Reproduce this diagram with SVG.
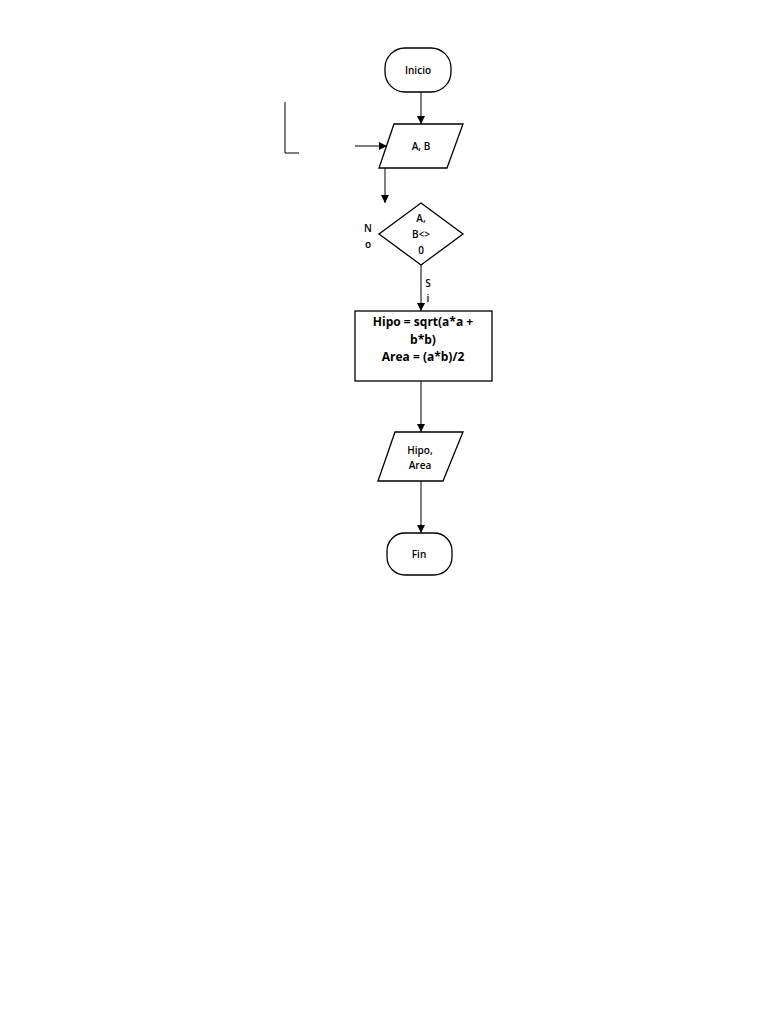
<svg xmlns="http://www.w3.org/2000/svg" width="768" height="1024" viewBox="0 0 768 1024">
<defs>
<marker id="arr" markerWidth="10" markerHeight="10" refX="9" refY="5" orient="auto" markerUnits="userSpaceOnUse">
<path d="M1,1 L9,5 L1,9 Z" fill="#000"/>
</marker>
<style>
.s{fill:#fff;stroke:#000;stroke-width:1.3}
.t{font-family:"Open Sans","Liberation Sans",sans-serif;font-size:10px;font-weight:600;fill:#000;text-anchor:middle}
.b{font-family:"Open Sans","Liberation Sans",sans-serif;font-size:12px;font-weight:700;fill:#000;text-anchor:middle}
.c{fill:none;stroke:#000;stroke-width:1}
</style>
</defs>
<rect width="768" height="1024" fill="#fff"/>
<g id="connectors">
<line class="c" x1="421" y1="92" x2="421" y2="124" marker-end="url(#arr)"/>
<line class="c" x1="355" y1="146" x2="387" y2="146" marker-end="url(#arr)"/>
<line class="c" x1="385" y1="168" x2="385" y2="203" marker-end="url(#arr)"/>
<line class="c" x1="421" y1="265" x2="421" y2="311" marker-end="url(#arr)"/>
<line class="c" x1="421" y1="381" x2="421" y2="432" marker-end="url(#arr)"/>
<line class="c" x1="421" y1="481" x2="421" y2="533" marker-end="url(#arr)"/>
<polyline class="c" points="285,102 285,153 299,153"/>
<text class="t" x="368" y="232">N</text>
<text class="t" x="368" y="248">o</text>
<text class="t" x="428" y="287">S</text>
<text class="t" x="428" y="302">i</text>
</g>
<g id="inicio">
<rect class="s" x="385" y="48" width="66" height="44" rx="20"/>
<text class="t" x="418" y="74">Inicio</text>
</g>
<g id="entrada">
<polygon class="s" points="394,124 463,124 447,168 379,168"/>
<text class="t" x="421" y="150">A, B</text>
</g>
<g id="decision">
<polygon class="s" points="421,203 463,234 421,265 379,234"/>
<text class="t" x="421" y="222">A,</text>
<text class="t" x="421" y="238">B&lt;&gt;</text>
<text class="t" x="421" y="254">0</text>
</g>
<g id="proceso">
<rect class="s" x="355" y="311" width="137" height="70"/>
<text class="b" x="423" y="326">Hipo = sqrt(a*a +</text>
<text class="b" x="423" y="344">b*b)</text>
<text class="b" x="423" y="361">Area = (a*b)/2</text>
</g>
<g id="salida">
<polygon class="s" points="395,432 463,432 443,481 378,481"/>
<text class="t" x="420" y="454">Hipo,</text>
<text class="t" x="420" y="469">Area</text>
</g>
<g id="fin">
<rect class="s" x="387" y="533" width="65" height="42" rx="18"/>
<text class="t" x="419" y="558">Fin</text>
</g>
</svg>
